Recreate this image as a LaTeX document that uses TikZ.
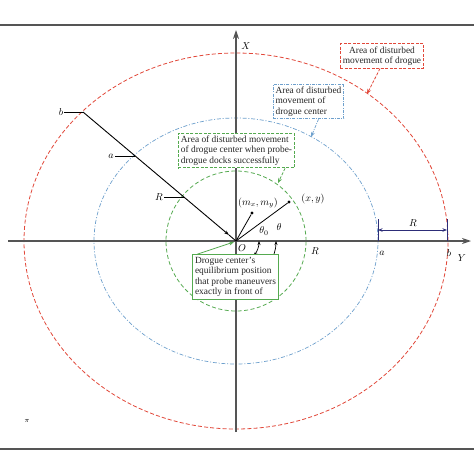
\documentclass[tikz,border=0pt]{standalone}
\usepackage{fontspec}
\setmainfont{Liberation Serif}
\usetikzlibrary{arrows.meta,calc}
\definecolor{redd}{RGB}{226,72,58}
\definecolor{blued}{RGB}{110,160,205}
\definecolor{greend}{RGB}{85,170,80}
\definecolor{axisg}{RGB}{85,85,85}
\definecolor{navyd}{RGB}{45,45,120}
\tikzset{
  boxtext/.style={font=\fontsize{9.4}{10.5}\selectfont, text=black!85, fill=white, inner sep=2.5pt, align=left},
  redbox/.style={boxtext, draw=redd, line width=1pt, dash pattern=on 3pt off 1.5pt, align=center},
  bluebox/.style={boxtext, draw=blued, line width=0.9pt, dash pattern=on 3pt off 1.3pt on 0.8pt off 1.3pt},
  greenbox/.style={boxtext, draw=greend, line width=1pt, dash pattern=on 3pt off 1.5pt},
  greensolid/.style={boxtext, draw=greend, line width=0.8pt},
  redline/.style={draw=redd, line width=0.8pt, dash pattern=on 4pt off 2.2pt},
  blueline/.style={draw=blued, line width=0.7pt, dash pattern=on 4pt off 1.8pt on 1pt off 1.8pt},
  greenline/.style={draw=greend, line width=0.8pt, dash pattern=on 4pt off 2.5pt},
  axisline/.style={draw=axisg, line width=1.1pt},
  frameline/.style={draw=axisg, line width=1.2pt},
  lbl/.style={font=\fontsize{10}{11}\selectfont, inner sep=1pt},
  dotpt/.style={circle, fill=black, inner sep=0pt, minimum size=3.2pt},
  tip/.style={-{Stealth[length=5pt,width=3.5pt]}},
  tips/.style={{Stealth[length=4pt,width=3pt]}-{Stealth[length=4pt,width=3pt]}},
}
\begin{document}
\begin{tikzpicture}[x=1pt,y=-1pt]
\useasboundingbox[fill=white] (0,0) rectangle (474,474);
% frame lines
\coordinate (TL) at (0,25); \coordinate (TR) at (474,25);
\coordinate (BL) at (0,449); \coordinate (BR) at (474,449);
\draw[frameline] (TL) -- (TR);
\draw[frameline] (BL) -- (BR);
% origin
\coordinate (O) at (236,241);
% ellipses
\draw[redline] (O) ellipse [x radius=212pt, y radius=188pt];
\draw[blueline] (O) ellipse [x radius=142pt, y radius=123pt];
\draw[greenline] (O) circle [radius=70pt];
% axes
\coordinate (Xb) at (236,432); \coordinate (Xt) at (236,30);
\coordinate (Yl) at (8,241); \coordinate (Yr) at (471,241);
\draw[axisline, -{Stealth[length=9pt,width=6pt]}] (Xb) -- (Xt);
\draw[axisline, -{Stealth[length=9pt,width=6pt]}] (Yl) -- (Yr);
\node[lbl] (Xl) at (246,46) {$X$};
\node[lbl] (Ylab) at (462,258) {$Y$};
\node[lbl] (Ol) at (242,248.5) {$O$};
% diagonal radius line
\coordinate (cb) at (83,112);
\coordinate (ca) at (135,156);
\coordinate (cR) at (184,197);
\coordinate (ctip) at (229,235);
\node[lbl] (lb) at (61,112) {$b$};
\node[lbl] (la) at (111,156) {$a$};
\node[lbl] (lR) at (159,197) {$R$};
\draw[line width=0.8pt] (lb.east) -- (cb);
\draw[line width=0.8pt] (la.east) -- (ca);
\draw[line width=0.8pt] (lR.east) -- (cR);
\draw[line width=0.9pt, tip] (cb) -- (ctip);
\draw[line width=0.9pt] (ctip) -- (O);
% points
\node[dotpt] (P) at (289,202) {};
\node[dotpt] (M) at (252,213) {};
\draw[line width=0.8pt] (O) -- (P);
\draw[line width=0.8pt] (O) -- (M);
\node[lbl] (Pl) at (313,199) {$(x,y)$};
\node[lbl] (Ml) at (258,203) {$(m_x,m_y)$};
% angle arcs
\draw[line width=0.7pt, tips] ($(O)+(40,0)$) arc [start angle=0, end angle=-36, radius=40pt];
\draw[line width=0.7pt, tips] ($(O)+(23,0)$) arc [start angle=0, end angle=-40, radius=23pt];
\node[lbl] (th) at (279,227) {$\theta$};
\node[lbl] (th0) at (264,231) {$\theta_0$};
% R label on green circle
\node[lbl] (Rg) at (315,251) {$R$};
% a, b on Y axis
\node[lbl] (al) at (382,253) {$a$};
\node[lbl] (bl) at (449,253) {$b$};
% R dimension
\coordinate (ta1) at (378,219); \coordinate (ta2) at (378,241);
\coordinate (tb1) at (447,219); \coordinate (tb2) at (447,241);
\draw[navyd, line width=0.8pt] (ta1) -- (ta2);
\draw[navyd, line width=0.8pt] (tb1) -- (tb2);
\coordinate (da) at (378,230); \coordinate (db) at (447,230);
\draw[navyd, line width=0.7pt, {Stealth[length=4.5pt,width=3.5pt]}-{Stealth[length=4.5pt,width=3.5pt]}] (da) -- (db);
\node[lbl] (Rd) at (413,223) {$R$};
% pi
\node[lbl, font=\fontsize{7}{8}\selectfont] (pil) at (27,421) {$\pi$};
% boxes
\node[redbox] (rbox) at (382,56) {Area of disturbed\\movement of drogue};
\coordinate (rtip) at (367,94);
\draw[redd, line width=0.8pt, dash pattern=on 3pt off 1.5pt, -{Stealth[length=5pt,width=4pt]}] (rbox.south) ++(-2,0) -- (rtip);
\node[bluebox] (bbox) at (308.5,101.5) {Area of disturbed\\movement of\\drogue center};
\coordinate (btip) at (311,137);
\draw[blued, line width=0.7pt, dash pattern=on 3pt off 1.3pt on 0.8pt off 1.3pt, -{Stealth[length=5pt,width=4pt]}] (bbox.south) ++(10,0) -- (btip);
\node[greenbox] (gbox) at (236.5,150.5) {Area of disturbed movement\\of drogue center when probe-\\drogue docks successfully};
\coordinate (gtip) at (278,183);
\draw[greend, line width=0.8pt, dash pattern=on 3pt off 1.5pt, -{Stealth[length=5pt,width=4pt]}] (gbox.south east) ++(-10,0) -- (gtip);
\node[greensolid] (sbox) at (235.5,277) {Drogue center's\\equilibrium position\\that probe maneuvers\\exactly in front of};
\draw[greend, line width=0.8pt, -{Stealth[length=5pt,width=4pt]}] (sbox.north west) ++(5,0) coordinate (sfrom) -- ($(O)+(-2,1)$);
\end{tikzpicture}
\end{document}
